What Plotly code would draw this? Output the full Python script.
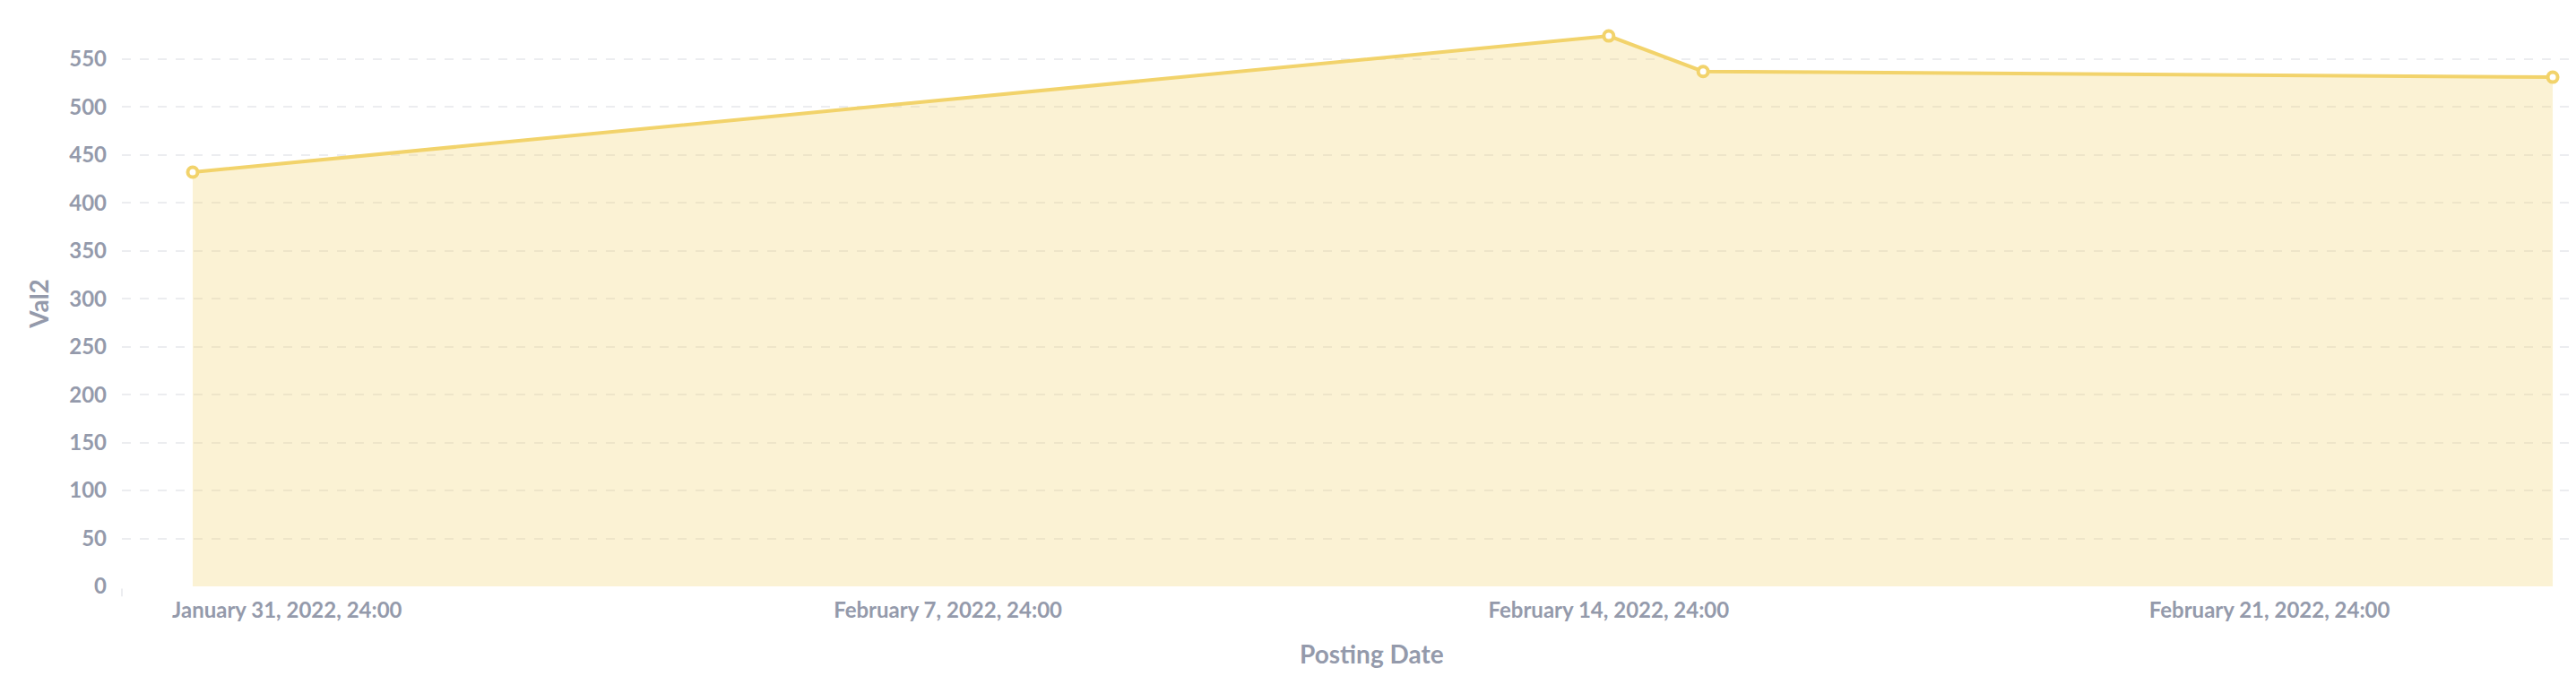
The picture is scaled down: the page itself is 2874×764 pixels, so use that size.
import plotly.graph_objects as go

# Data
posting_dates = ["2022-01-30", "2022-02-14", "2022-02-15", "2022-02-24"]
val2 = [432, 574, 537, 531]

tick_dates = ["2022-01-31", "2022-02-07", "2022-02-14", "2022-02-21"]
tick_labels = [
    "January 31, 2022, 24:00",
    "February 7, 2022, 24:00",
    "February 14, 2022, 24:00",
    "February 21, 2022, 24:00",
]

text_color = "#949AAB"
line_color = "#F2D36B"
grid_color = "#ECEDF0"

fig = go.Figure()
fig.add_trace(go.Scatter(
    x=posting_dates,
    y=val2,
    mode="lines+markers",
    fill="tozeroy",
    fillcolor="rgba(242, 212, 112, 0.3)",
    line=dict(color=line_color, width=4),
    marker=dict(size=11, color="white", line=dict(color=line_color, width=4)),
    showlegend=False,
))

# the page body has an 8px margin, so margins are shifted by that amount
fig.update_layout(
    width=2874,
    height=764,
    margin=dict(l=128, r=12, t=15, b=118),
    plot_bgcolor="white",
    paper_bgcolor="white",
    font=dict(family="Lato, 'Open Sans', sans-serif", color=text_color, size=24),
)

fig.update_xaxes(
    type="date",
    range=["2022-01-29 06:00", "2022-02-24 05:00"],
    tickvals=tick_dates,
    ticktext=tick_labels,
    tickfont=dict(size=24, family="Lato", weight="bold"),
    showgrid=False,
    zeroline=False,
    showline=False,
    ticklabelstandoff=10,
)

fig.update_yaxes(
    range=[0, 590],
    dtick=50,
    tick0=0,
    tickfont=dict(size=24, family="Lato", weight="bold"),
    showgrid=True,
    gridcolor=grid_color,
    gridwidth=2,
    griddash="10px,10px",
    zeroline=False,
    showline=False,
    ticklabelstandoff=16,
    title=dict(text="Val2", font=dict(size=28, family="Lato", weight="bold"), standoff=14),
)

# x axis title sits a bit right of the plot centre in the original
fig.add_annotation(text="Posting Date", xref="paper", yref="paper", x=0.5102, y=-0.119,
                   xanchor="center", yanchor="middle", showarrow=False,
                   font=dict(size=28, family="Lato", weight="bold", color=text_color))

# small tick at the left end of the x axis
fig.add_shape(type="line", xref="paper", yref="paper", x0=0, x1=0, y0=-0.004, y1=-0.018,
              line=dict(color=grid_color, width=2))

fig.write_html("out.html")
